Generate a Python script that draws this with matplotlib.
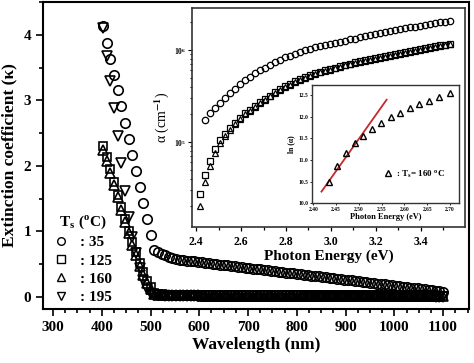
import numpy as np
import matplotlib
matplotlib.use("Agg")
from matplotlib import pyplot as plt
from matplotlib.lines import Line2D
from matplotlib.ticker import MultipleLocator, LogLocator, LogFormatterMathtext, NullFormatter

plt.rcParams["font.family"] = ["Liberation Serif", "DejaVu Serif"]
plt.rcParams["font.weight"] = "bold"
plt.rcParams["mathtext.fontset"] = "stix"

# main panel: extinction coefficient vs wavelength (sampled every 7.5 nm)
wavelength = np.arange(402.5, 1100.1, 7.5)
temps = ["35", "125", "160", "195"]

kappa_35 = [
    4.13, 3.88, 3.64, 3.39, 3.16, 2.91, 2.65, 2.41, 2.17, 1.93,
    1.68, 1.43, 1.19, 0.95, 0.72, 0.69, 0.66, 0.635, 0.615, 0.60,
    0.585, 0.570, 0.563, 0.557, 0.550, 0.543, 0.536, 0.530, 0.523, 0.516,
    0.509, 0.503, 0.496, 0.489, 0.482, 0.476, 0.469, 0.462, 0.455, 0.449,
    0.442, 0.435, 0.428, 0.422, 0.415, 0.408, 0.401, 0.395, 0.388, 0.381,
    0.374, 0.368, 0.361, 0.354, 0.347, 0.341, 0.334, 0.327, 0.320, 0.314,
    0.307, 0.300, 0.293, 0.287, 0.280, 0.273, 0.266, 0.260, 0.253, 0.246,
    0.239, 0.233, 0.226, 0.219, 0.212, 0.206, 0.199, 0.192, 0.185, 0.179,
    0.172, 0.165, 0.158, 0.152, 0.145, 0.138, 0.131, 0.125, 0.118, 0.111,
    0.104, 0.098, 0.091, 0.084,
]
kappa_125 = [
    2.30, 2.13, 1.95, 1.76, 1.56, 1.37, 1.19, 1.01, 0.84, 0.68,
    0.52, 0.38, 0.25, 0.15, 0.06,
    0.040, 0.035, 0.033, 0.032, 0.032, 0.031, 0.031, 0.030, 0.030, 0.030,
    0.030, 0.029, 0.029, 0.029, 0.029, 0.028, 0.028, 0.028, 0.028, 0.028,
    0.027, 0.027, 0.027, 0.027, 0.027, 0.026, 0.026, 0.026, 0.026, 0.026,
    0.025, 0.025, 0.025, 0.025, 0.025, 0.024, 0.024, 0.024, 0.024, 0.024,
    0.023, 0.023, 0.023, 0.023, 0.023, 0.022, 0.022, 0.022, 0.022, 0.022,
    0.021, 0.021, 0.021, 0.021, 0.021, 0.020, 0.020, 0.020, 0.020, 0.020,
    0.019, 0.019, 0.019, 0.019, 0.019, 0.018, 0.018, 0.018, 0.018, 0.018,
    0.017, 0.017, 0.017, 0.017, 0.017, 0.016, 0.016, 0.016, 0.016,
]
kappa_160 = [
    2.25, 2.08, 1.90, 1.71, 1.52, 1.33, 1.15, 0.97, 0.80, 0.64,
    0.48, 0.34, 0.22, 0.12, 0.05,
    0.030, 0.028, 0.027, 0.026, 0.026, 0.025, 0.025, 0.025, 0.024, 0.024,
    0.024, 0.024, 0.023, 0.023, 0.023, 0.023, 0.022, 0.022, 0.022, 0.022,
    0.022, 0.021, 0.021, 0.021, 0.021, 0.021, 0.020, 0.020, 0.020, 0.020,
    0.020, 0.020, 0.019, 0.019, 0.019, 0.019, 0.019, 0.019, 0.018, 0.018,
    0.018, 0.018, 0.018, 0.018, 0.017, 0.017, 0.017, 0.017, 0.017, 0.017,
    0.016, 0.016, 0.016, 0.016, 0.016, 0.016, 0.015, 0.015, 0.015, 0.015,
    0.015, 0.015, 0.014, 0.014, 0.014, 0.014, 0.014, 0.014, 0.013, 0.013,
    0.013, 0.013, 0.013, 0.013, 0.012, 0.012, 0.012, 0.012, 0.012,
]
kappa_195 = [
    4.10, 3.68, 3.29, 2.88, 2.46, 2.04, 1.62, 1.22, 0.92, 0.67,
    0.44, 0.26, 0.12, 0.05, 0.03,
    0.025, 0.024, 0.023, 0.023, 0.022, 0.022, 0.022, 0.021, 0.021, 0.021,
    0.021, 0.020, 0.020, 0.020, 0.020, 0.020, 0.019, 0.019, 0.019, 0.019,
    0.019, 0.018, 0.018, 0.018, 0.018, 0.018, 0.017, 0.017, 0.017, 0.017,
    0.017, 0.016, 0.016, 0.016, 0.016, 0.016, 0.015, 0.015, 0.015, 0.015,
    0.015, 0.014, 0.014, 0.014, 0.014, 0.014, 0.013, 0.013, 0.013, 0.013,
    0.013, 0.012, 0.012, 0.012, 0.012, 0.012, 0.011, 0.011, 0.011, 0.011,
    0.011, 0.010, 0.010, 0.010, 0.010, 0.010, 0.009, 0.009, 0.009, 0.009,
    0.009, 0.008, 0.008, 0.008, 0.008, 0.008, 0.007, 0.007, 0.007,
]

# inset: absorption coefficient (log10 of alpha in cm^-1) vs photon energy
energy_35 = 2.44 + 0.0222 * np.arange(50)
energy_125 = 2.418 + 0.0222 * np.arange(51)
log_alpha_35 = [
    5.24, 5.31, 5.37, 5.42, 5.48, 5.53, 5.58, 5.63, 5.67, 5.71,
    5.75, 5.78, 5.81, 5.84, 5.87, 5.89, 5.92, 5.94, 5.96, 5.98,
    6.00, 6.015, 6.03, 6.04, 6.055, 6.07, 6.08, 6.09, 6.10, 6.115,
    6.125, 6.14, 6.15, 6.16, 6.175, 6.185, 6.195, 6.205, 6.215, 6.225,
    6.235, 6.245, 6.255, 6.265, 6.272, 6.28, 6.29, 6.30, 6.31, 6.32,
]
log_alpha_125 = [
    4.44, 4.64, 4.79, 4.92, 5.02, 5.09, 5.15, 5.21, 5.26, 5.31,
    5.35, 5.39, 5.43, 5.47, 5.505, 5.54, 5.575, 5.605, 5.635, 5.66,
    5.685, 5.71, 5.73, 5.75, 5.765, 5.78, 5.795, 5.81, 5.825, 5.84,
    5.85, 5.865, 5.877, 5.89, 5.90, 5.912, 5.923, 5.934, 5.947, 5.958,
    5.97, 5.98, 5.99, 6.00, 6.01, 6.02, 6.03, 6.04, 6.05, 6.06, 6.07,
]
log_alpha_160 = [
    4.30, 4.56, 4.74, 4.88, 4.99, 5.07, 5.135, 5.195, 5.25, 5.30,
    5.34, 5.38, 5.42, 5.46, 5.495, 5.53, 5.565, 5.595, 5.625, 5.65,
    5.675, 5.70, 5.72, 5.74, 5.757, 5.772, 5.787, 5.802, 5.817, 5.832,
    5.843, 5.857, 5.87, 5.882, 5.893, 5.905, 5.916, 5.927, 5.94, 5.95,
    5.962, 5.972, 5.982, 5.993, 6.003, 6.013, 6.023, 6.033, 6.043, 6.053, 6.063,
]

# inner inset: ln(alpha) for Ts = 160 C with linear fit near the edge
energy_ln = [2.435, 2.453, 2.471, 2.492, 2.510, 2.530, 2.549,
             2.570, 2.590, 2.612, 2.633, 2.654, 2.677, 2.700]
ln_alpha = [10.50, 10.86, 11.15, 11.39, 11.55, 11.71, 11.86,
            11.99, 12.09, 12.19, 12.29, 12.37, 12.46, 12.55]
fit_energy = [2.418, 2.561]
fit_ln = [10.27, 12.39]

W, H = 474, 363
fig = plt.figure(figsize=(W / 100, H / 100), dpi=100)

def box(l, t, r, b):
    return [l / W, 1 - b / H, (r - l) / W, (b - t) / H]

mk = dict(linestyle="none", mfc="none", mec="black")

ax = fig.add_axes(box(43, 1.5, 469, 309))
ax.plot(wavelength, kappa_35, marker="o", ms=6.8, mew=1.2, **mk)
ax.plot(wavelength, kappa_125, marker="s", ms=5.6, mew=1.2, **mk)
ax.plot(wavelength, kappa_160, marker="^", ms=6.8, mew=1.2, **mk)
ax.plot(wavelength, kappa_195, marker="v", ms=6.8, mew=1.2, **mk)
ax.set_xlim(279.5, 1153)
ax.set_ylim(-0.183, 4.51)
ax.xaxis.set_major_locator(MultipleLocator(100))
ax.xaxis.set_minor_locator(MultipleLocator(25))
ax.yaxis.set_major_locator(MultipleLocator(1))
ax.yaxis.set_minor_locator(MultipleLocator(0.5))
ax.tick_params(which="both", direction="out", labelsize=11, width=1.2)
ax.tick_params(which="major", length=5)
ax.tick_params(which="minor", length=3)
for s in ax.spines.values():
    s.set_linewidth(1.5)
ax.set_xlabel("Wavelength (nm)", fontsize=12.5, fontweight="bold", labelpad=2)
ax.set_ylabel("Extinction coefficient (\u03ba)", fontsize=12.5, fontweight="bold", labelpad=4)

handles = [Line2D([], [], marker=m, ms=5.5, mew=1.0, **mk) for m in ["o", "s", "^", "v"]]
ax.legend(handles, [": " + t for t in temps], title=r"T$_\mathregular{s}$ ($^\mathregular{o}$C)",
          loc="upper left", bbox_to_anchor=(0.0, 0.345), frameon=False,
          prop={"size": 11, "weight": "bold"}, title_fontproperties={"size": 11, "weight": "bold"},
          handlelength=1.0, handletextpad=0.7, labelspacing=0.3, borderpad=0.2)

# inset 1
ax1 = fig.add_axes(box(192, 8, 465, 227))
ax1.set_yscale("log")
ax1.plot(energy_35, 10 ** np.array(log_alpha_35), marker="o", ms=4.6, mew=0.9, **mk)
ax1.plot(energy_125, 10 ** np.array(log_alpha_125), marker="s", ms=4.0, mew=0.9, **mk)
ax1.plot(energy_125, 10 ** np.array(log_alpha_160), marker="^", ms=4.6, mew=0.9, **mk)
ax1.set_xlim(2.382, 3.596)
ax1.set_ylim(10 ** 4.076, 10 ** 6.457)
ax1.xaxis.set_major_locator(MultipleLocator(0.2))
ax1.xaxis.set_minor_locator(MultipleLocator(0.1))
ax1.yaxis.set_major_locator(LogLocator(base=10))
ax1.yaxis.set_major_formatter(LogFormatterMathtext())
ax1.yaxis.set_minor_locator(LogLocator(base=10, subs=np.arange(2, 10)))
ax1.yaxis.set_minor_formatter(NullFormatter())
ax1.tick_params(axis="x", which="both", direction="out", labelsize=8.5, width=0.9)
ax1.tick_params(axis="y", which="both", direction="out", labelsize=5.5, width=0.8, pad=1)
ax1.tick_params(which="major", length=3)
ax1.tick_params(which="minor", length=1.8)
for s in ax1.spines.values():
    s.set_linewidth(1.2)
    s.set_color("#333333")
ax1.set_xlabel("Photon Energy (eV)", fontsize=11, fontweight="bold", labelpad=1)
ax1.set_ylabel("\u03b1 (cm$^{-1}$)", fontsize=10, fontweight="normal", labelpad=2)

# inset 2
ax2 = fig.add_axes(box(311.7, 85, 459, 203.3))
ax2.plot(fit_energy, fit_ln, color="#c8262a", lw=1.3)
ax2.plot(energy_ln, ln_alpha, marker="^", ms=4.8, mew=1.0, **mk)
ax2.set_xlim(2.3965, 2.72)
ax2.set_ylim(10.0, 12.73)
ax2.xaxis.set_major_locator(MultipleLocator(0.05))
ax2.yaxis.set_major_locator(MultipleLocator(0.5))
ax2.xaxis.set_major_formatter(plt.FormatStrFormatter("%.2f"))
ax2.yaxis.set_major_formatter(plt.FormatStrFormatter("%.1f"))
ax2.tick_params(which="both", direction="out", labelsize=4, length=1.5, width=0.6, pad=1)
for s in ax2.spines.values():
    s.set_linewidth(1.0)
    s.set_color("#333333")
ax2.set_xlabel("Photon Energy (eV)", fontsize=6, fontweight="bold", labelpad=1)
ax2.set_ylabel("ln (\u03b1)", fontsize=5.5, fontweight="bold", labelpad=2)
ax2.legend([Line2D([], [], marker="^", ms=5, mew=1.0, **mk)],
           [r": T$_\mathregular{s}$= 160 $^\mathregular{o}$C"],
           loc="center left", bbox_to_anchor=(0.44, 0.25), frameon=False,
           prop={"size": 6.5, "weight": "bold"}, handlelength=0.8, handletextpad=0.5)

fig.savefig("out.png", dpi=100)
